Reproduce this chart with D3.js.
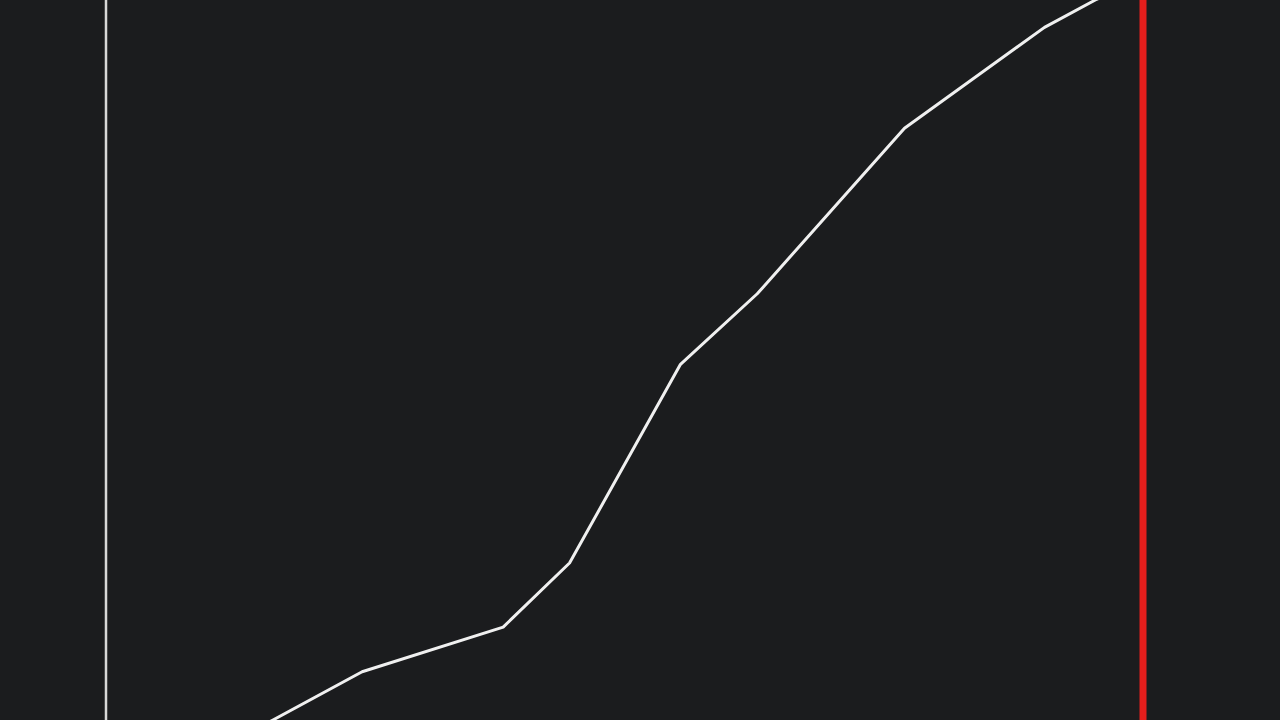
<!DOCTYPE html>
<html>
<head>
<meta charset="utf-8">
<script src="https://cdn.jsdelivr.net/npm/d3@7"></script>
<style>
  html, body { margin: 0; padding: 0; background: #1b1c1e; overflow: hidden; }
  svg { display: block; }
</style>
</head>
<body>
<svg id="chart"></svg>
<script>
// line values (x = progress, y = level)
const xs = [9.1, 16.1, 24.7, 38.3, 44.7, 55.4, 62.8, 77.0, 90.5, 95.4, 100.7];
const ys = [-5.4, 0, 6.7, 12.9, 21.8, 49.4, 59.2, 82.2, 96.2, 100, 103.5];
// red marker position on the x axis
const markerX = [100];

const width = 1280, height = 720;

const svg = d3.select('#chart')
    .attr('width', width)
    .attr('height', height);

svg.append('rect')
    .attr('width', width)
    .attr('height', height)
    .attr('fill', '#1b1c1e');

const xscale = d3.scaleLinear()
    .domain([0, 100])
    .range([106, 1143]);

const yscale = d3.scaleLinear()
    .domain([0, 100])
    .range([height, 0]);

const data = xs.map((x, i) => ({x: x, y: ys[i]}));

// left axis line
const yaxis = d3.axisLeft(yscale).ticks(0).tickSize(0);
svg.append('g')
    .attr('transform', `translate(${xscale(0)}, 0)`)
    .call(yaxis)
    .call(g => g.select('.domain')
        .attr('stroke', '#d8d8d8')
        .attr('stroke-width', 2.5)
        .attr('d', `M0,0V${height}`));

const line = d3.line()
    .x(d => xscale(d.x))
    .y(d => yscale(d.y));

svg.append('path')
    .datum(data)
    .attr('fill', 'none')
    .attr('stroke', '#f0f0f0')
    .attr('stroke-width', 3)
    .attr('stroke-linejoin', 'round')
    .attr('d', line);

svg.selectAll('line.marker')
    .data(markerX)
    .enter()
    .append('line')
    .attr('class', 'marker')
    .attr('x1', d => xscale(d))
    .attr('x2', d => xscale(d))
    .attr('y1', 0)
    .attr('y2', height)
    .attr('stroke', '#e41e1c')
    .attr('stroke-width', 7);
</script>
</body>
</html>
